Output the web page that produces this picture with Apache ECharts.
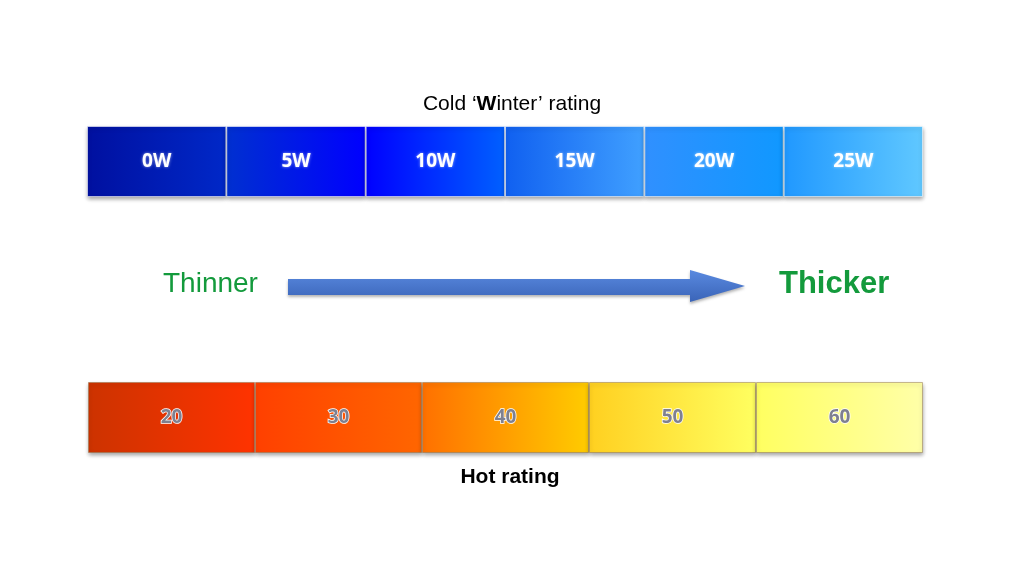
<!DOCTYPE html>
<html><head><meta charset="utf-8">
<script src="https://cdn.jsdelivr.net/npm/echarts@6/dist/echarts.min.js"></script>
<style>html,body{margin:0;background:#fff}#c{width:1024px;height:576px}</style>
</head><body><div id="c"></div>
<script>
const coldLabels = ['0W','5W','10W','15W','20W','25W'];
const coldFrom = ['#0010a0','#0030d0','#0000ff','#1060f0','#3090ff','#2098ff'];
const coldTo   = ['#0028c8','#0000ff','#0060ff','#40a0ff','#1098ff','#60c8ff'];
const hotLabels = ['20','30','40','50','60'];
const hotFrom = ['#cc3300','#ff4000','#ff7000','#ffd020','#ffff60'];
const hotTo   = ['#ff3300','#ff6600','#ffcc00','#ffff60','#ffffa8'];
const cellValue = 1;

function grad(a,b){return new echarts.graphic.LinearGradient(0,0,1,0,[{offset:0,color:a},{offset:1,color:b}]);}
const chart = echarts.init(document.getElementById('c'));
chart.setOption({
  animation:false,
  grid:[{left:87,right:101,top:126,height:71},{left:88,right:101,top:382,height:71}],
  xAxis:[{type:'category',data:coldLabels,gridIndex:0,show:false},{type:'category',data:hotLabels,gridIndex:1,show:false}],
  yAxis:[{type:'value',max:1,gridIndex:0,show:false},{type:'value',max:1,gridIndex:1,show:false}],
  title:[
    {text:'Cold ‘{b|W}inter’ rating',left:'center',top:89,textStyle:{fontFamily:'Liberation Sans',fontSize:21,fontWeight:'normal',color:'#000',rich:{b:{fontFamily:'Liberation Sans',fontSize:21,fontWeight:'bold',color:'#000'}}}},
    {text:'Hot rating',left:505,textAlign:'center',top:462,textStyle:{fontFamily:'Liberation Sans',fontSize:21,fontWeight:'bold',color:'#000'}}
  ],
  series:[
    {type:'bar',xAxisIndex:0,yAxisIndex:0,barCategoryGap:0,
     data:coldLabels.map((l,i)=>({value:cellValue,itemStyle:{color:grad(coldFrom[i],coldTo[i])}})),
     itemStyle:{borderColor:'rgba(255,255,255,0.55)',borderWidth:1,shadowColor:'rgba(0,0,0,0.35)',shadowBlur:4,shadowOffsetY:2},
     label:{show:true,position:'inside',formatter:p=>coldLabels[p.dataIndex],fontFamily:'Open Sans',fontWeight:'bold',fontSize:19,color:'#fff',textShadowColor:'rgba(255,255,255,0.6)',textShadowBlur:3}},
    {type:'bar',xAxisIndex:1,yAxisIndex:1,barCategoryGap:0,
     data:hotLabels.map((l,i)=>({value:cellValue,itemStyle:{color:grad(hotFrom[i],hotTo[i])}})),
     itemStyle:{borderColor:'rgba(150,120,80,0.5)',borderWidth:1,shadowColor:'rgba(0,0,0,0.35)',shadowBlur:4,shadowOffsetY:2},
     label:{show:true,position:'inside',formatter:p=>hotLabels[p.dataIndex],fontFamily:'Open Sans',fontWeight:'bold',fontSize:19,color:'#7f8090',textBorderColor:'#fff',textBorderWidth:1.5}}
  ],
  graphic:[
    {type:'polygon',shape:{points:[[288,279],[690,279],[690,270],[745,286],[690,302],[690,295],[288,295]]},
     style:{fill:new echarts.graphic.LinearGradient(0,0,0,1,[{offset:0,color:'#5a8ae0'},{offset:1,color:'#3a64b8'}]),shadowColor:'rgba(0,0,0,0.3)',shadowBlur:3,shadowOffsetY:2}},
    {type:'text',left:163,top:270,style:{text:'Thinner',font:'28px "Liberation Sans Narrow", "Liberation Sans"',fill:'#139a3c'}},
    {type:'text',left:779,top:269,style:{text:'Thicker',font:'bold 31px "Liberation Sans"',fill:'#139a3c'}}
  ]
});
</script></body></html>
